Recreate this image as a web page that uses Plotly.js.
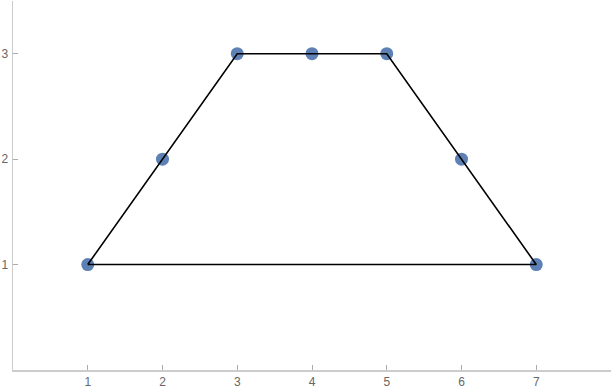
<!DOCTYPE html>
<html>
<head>
<meta charset="utf-8">
<script src="https://cdn.plot.ly/plotly-3.0.1.min.js"></script>
<style>html,body{margin:0;padding:0;background:#fff;}#plot{width:611px;height:388px;}</style>
</head>
<body>
<div id="plot"></div>
<script>
const pointX = [1, 2, 3, 4, 5, 6, 7];
const pointY = [1, 2, 3, 3, 3, 2, 1];
const polyX = [1, 3, 5, 7, 1];
const polyY = [1, 3, 3, 1, 1];
const xTicks = [1, 2, 3, 4, 5, 6, 7];
const yTicks = [1, 2, 3];

const data = [
  {
    x: pointX, y: pointY, mode: 'markers', type: 'scatter',
    marker: {color: '#5E81B5', size: 13},
    hoverinfo: 'none'
  },
  {
    x: polyX, y: polyY, mode: 'lines', type: 'scatter',
    line: {color: '#000000', width: 1.6},
    hoverinfo: 'none'
  }
];

const axisCommon = {
  showgrid: false, zeroline: false,
  showline: true, linecolor: '#cccccc', linewidth: 1.5,
  ticks: 'inside', ticklen: 5, tickcolor: '#aaaaaa', tickwidth: 1,
  tickfont: {family: 'Liberation Sans, Arial, sans-serif', size: 12, color: '#666666'},
  tickmode: 'array'
};

const layout = {
  width: 611, height: 388,
  margin: {l: 13, r: 0, t: 1, b: 18},
  showlegend: false,
  paper_bgcolor: '#ffffff', plot_bgcolor: '#ffffff',
  xaxis: Object.assign({}, axisCommon, {range: [0, 8], tickvals: xTicks, ticktext: xTicks.map(String), ticklabelstandoff: 0}),
  yaxis: Object.assign({}, axisCommon, {range: [0, 3.5], tickvals: yTicks, ticktext: yTicks.map(String), ticklabelstandoff: 1})
};

Plotly.newPlot('plot', data, layout, {displayModeBar: false, staticPlot: true});
</script>
</body>
</html>
